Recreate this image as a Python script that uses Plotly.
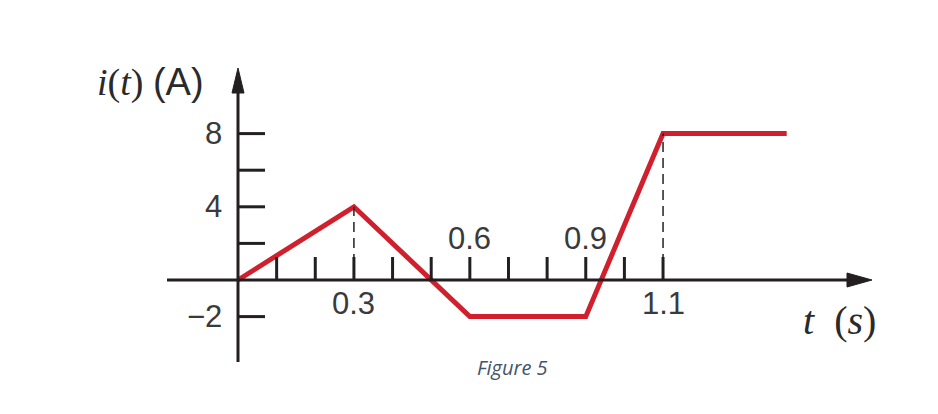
import plotly.graph_objects as go

# ---- data ----
t_values = [0.0, 0.3, 0.6, 0.9, 1.1, 1.42]
i_values = [0, 4, -2, -2, 8, 8]
x_tick_values = [0.1, 0.2, 0.3, 0.4, 0.5, 0.6, 0.7, 0.8, 0.9, 1.0, 1.1]
x_labels_below = ["0.3", "1.1"]
x_labels_above = ["0.6", "0.9"]
y_tick_values = [-2, 2, 4, 6, 8]
y_labeled = ["8", "4", "−2"]
dashed_at = [0.3, 1.1]

# ---- layout constants (pixels inside the plot div; page adds 8px body margin) ----
W, H = 938, 414
OFF = 8
X0PX, XSCALE = 238 - OFF, 386.4
Y0PX, YSCALE = 280 - OFF, 18.3
x_range = [-X0PX / XSCALE, (W - X0PX) / XSCALE]
y_range = [-(H - Y0PX) / YSCALE, Y0PX / YSCALE]
x_axis_start = (167 - OFF - X0PX) / XSCALE
x_axis_tip = (872 - OFF - X0PX) / XSCALE
y_axis_bottom = -(362 - OFF - Y0PX) / YSCALE
y_axis_tip = (Y0PX - (68 - OFF)) / YSCALE

AX = "#231F20"
RED = "#D0202E"
LBL = "#3a3a3a"
LFONT = dict(family="Liberation Sans", size=31, color=LBL)

fig = go.Figure()

shapes = []
# axes lines
shapes.append(dict(type="line", xref="x", yref="y", x0=x_axis_start, x1=x_axis_tip - 0.05,
                   y0=0, y1=0, line=dict(color=AX, width=3)))
shapes.append(dict(type="line", xref="x", yref="y", x0=0, x1=0, y0=y_axis_bottom,
                   y1=y_axis_tip - 1.0, line=dict(color=AX, width=3)))
# arrowheads
shapes.append(dict(type="path", xref="x", yref="y", xsizemode="pixel", ysizemode="pixel",
                   xanchor=x_axis_tip, yanchor=0, path="M 0 0 L -25 7 L -25 -7 Z",
                   fillcolor=AX, line=dict(color=AX, width=1)))
shapes.append(dict(type="path", xref="x", yref="y", xsizemode="pixel", ysizemode="pixel",
                   xanchor=0, yanchor=y_axis_tip, path="M 0 0 L -6 -25 L 6 -25 Z",
                   fillcolor=AX, line=dict(color=AX, width=1)))
# x ticks (upwards)
for t in x_tick_values:
    shapes.append(dict(type="line", xref="x", yref="y", ysizemode="pixel", yanchor=0,
                       x0=t, x1=t, y0=0, y1=23, line=dict(color=AX, width=3)))
# y ticks (to the right)
for v in y_tick_values:
    shapes.append(dict(type="line", xref="x", yref="y", xsizemode="pixel", xanchor=0,
                       x0=0, x1=27, y0=v, y1=v, line=dict(color=AX, width=3)))
# dashed guides
for t in dashed_at:
    idx = t_values.index(t)
    shapes.append(dict(type="line", xref="x", yref="y", x0=t, x1=t, y0=0,
                       y1=i_values[idx], line=dict(color="#222222", width=1.5, dash="10px,6px")))

fig.update_layout(shapes=shapes)

fig.add_trace(go.Scatter(x=t_values, y=i_values, mode="lines",
                         line=dict(color=RED, width=5), hoverinfo="skip"))

ann = []
for lbl in x_labels_below:
    ann.append(dict(x=float(lbl), y=0, xref="x", yref="y", text=lbl, showarrow=False,
                    yanchor="middle", yshift=-23, font=LFONT))
for lbl in x_labels_above:
    ann.append(dict(x=float(lbl), y=0, xref="x", yref="y", text=lbl, showarrow=False,
                    yanchor="middle", yshift=42, font=LFONT))
for lbl in y_labeled:
    v = float(lbl.replace("−", "-"))
    ann.append(dict(x=0, y=v, xref="x", yref="y", text=lbl, showarrow=False,
                    xanchor="right", xshift=-14, yanchor="middle", font=LFONT))
# axis titles
ann.append(dict(x=(150 - OFF) / W, y=1 - (82 - OFF) / H, xref="paper", yref="paper", showarrow=False,
                xanchor="center", yanchor="middle",
                text="<i>i</i>(<i>t</i>) <span style='font-family:Liberation Sans'>(A)</span>",
                font=dict(family="Liberation Serif", size=38, color="#2a2a2a")))
ann.append(dict(x=(839 - OFF) / W, y=1 - (320 - OFF) / H, xref="paper", yref="paper", showarrow=False,
                xanchor="center", yanchor="middle",
                text="<i>t</i>  (<i>s</i>)",
                font=dict(family="Liberation Serif", size=40, color="#2a2a2a")))
ann.append(dict(x=(513 - OFF) / W, y=1 - (367 - OFF) / H, xref="paper", yref="paper", showarrow=False,
                xanchor="center", yanchor="middle", text="<i>Figure 5</i>",
                font=dict(family="Open Sans", size=20, color="#44546A")))

fig.update_layout(
    annotations=ann,
    width=W, height=H,
    margin=dict(l=0, r=0, t=0, b=0),
    paper_bgcolor="white", plot_bgcolor="white",
    showlegend=False,
    xaxis=dict(range=x_range, visible=False, fixedrange=True),
    yaxis=dict(range=y_range, visible=False, fixedrange=True),
)

fig.write_html("out.html")
